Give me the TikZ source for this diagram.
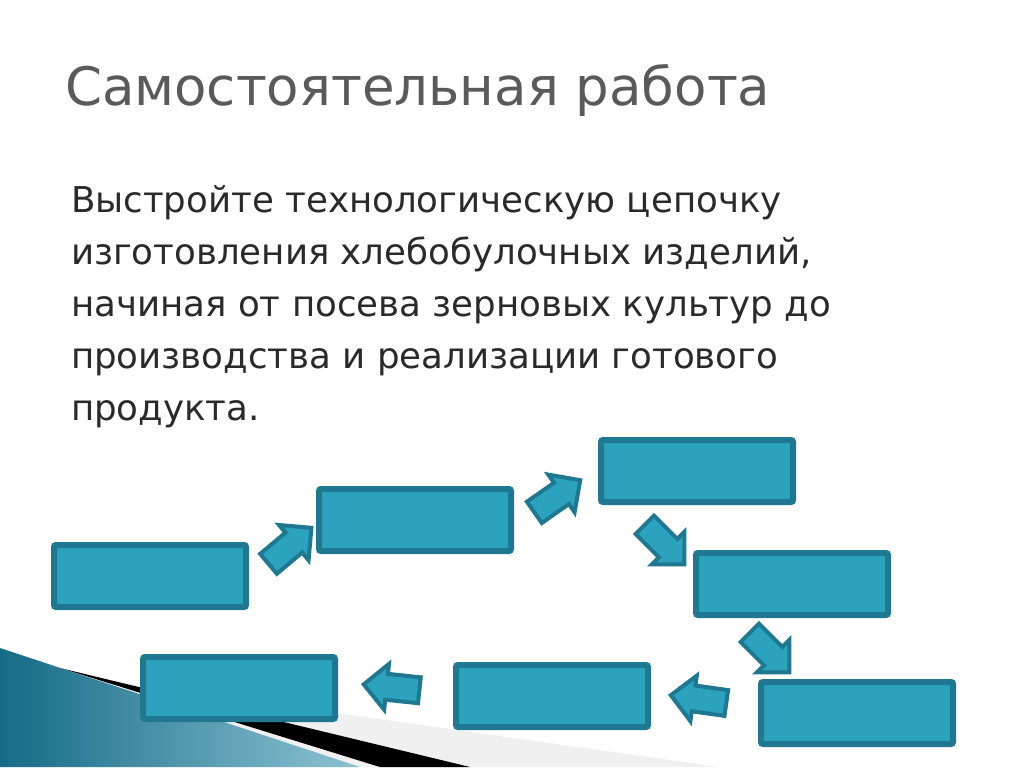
\documentclass[tikz,border=0pt]{standalone}
\usepackage{fontspec}
\setmainfont{DejaVu Sans}
\usetikzlibrary{shapes.arrows}
\definecolor{boxfill}{HTML}{2BA2BE}
\definecolor{boxedge}{HTML}{1F7890}
\definecolor{titlegray}{HTML}{5A5A5A}
\definecolor{textgray}{HTML}{2A2A2A}
\definecolor{decoblue}{HTML}{1B86A8}
\tikzset{
  stepbox/.style={draw=boxedge, line width=3pt, fill=boxfill, minimum width=96pt, minimum height=31pt, inner sep=0pt, rounded corners=1pt,
    append after command={\pgfextra{\draw[boxedge, line width=0.6pt] ([shift={(3.5pt,3.5pt)}]\tikzlastnode.south west) rectangle ([shift={(-3.5pt,-3.5pt)}]\tikzlastnode.north east);}}},
  blockarrow/.style={single arrow, draw=boxedge, line width=2pt, fill=boxfill, minimum height=28pt, minimum width=22pt, single arrow head extend=5pt, inner xsep=0pt, inner ysep=5.5pt}
}
\begin{document}
\begin{tikzpicture}[x=0.5pt,y=-0.5pt]
\useasboundingbox (0,0) rectangle (1024,767);
\fill[white] (0,0) rectangle (1024,767);
% decoration
\fill[gray!12] (130,684) -- (720,767) -- (0,767) -- cycle;
\fill[black] (60,668) -- (470,767) -- (380,767) -- cycle;
\shade[left color=decoblue!80!black, right color=decoblue!50!white] (0,648) -- (360,767) -- (0,767) -- cycle;
% title
\node[anchor=west, text=titlegray, font=\fontsize{26.5}{30}\selectfont] (title) at (58,90) {Самостоятельная работа};
\node[anchor=north west, text=textgray, align=left, font=\fontsize{17.8}{26}\selectfont] (body) at (64,178)
{Выстройте технологическую цепочку\\изготовления хлебобулочных изделий,\\начиная от посева зерновых культур до\\производства и реализации готового\\продукта.};
% boxes
\node[stepbox] (b1) at (150,576) {};
\node[stepbox] (b2) at (415,520) {};
\node[stepbox] (b3) at (697,471) {};
\node[stepbox] (b4) at (792,584) {};
\node[stepbox] (b5) at (857,713) {};
\node[stepbox] (b6) at (552,696) {};
\node[stepbox] (b7) at (239,688) {};
% arrows
\node[blockarrow, rotate=40] (a1) at (285,550) {};
\node[blockarrow, rotate=35] (a2) at (552,500) {};
\node[blockarrow, rotate=-45] (a3) at (660,540) {};
\node[blockarrow, rotate=-45] (a4) at (765,648) {};
\node[blockarrow, rotate=172] (a5) at (705,700) {};
\node[blockarrow, rotate=174] (a6) at (398,688) {};
\end{tikzpicture}
\end{document}
